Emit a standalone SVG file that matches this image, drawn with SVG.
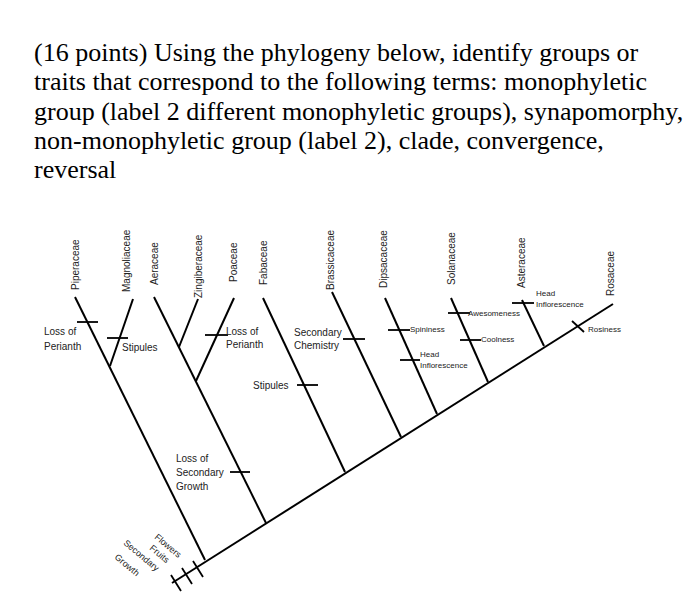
<svg xmlns="http://www.w3.org/2000/svg" width="700" height="609" viewBox="0 0 700 609">
<style>
.q{font-family:"Liberation Serif",serif;font-size:26px;fill:#000}
.t{font-family:"Liberation Sans",sans-serif;font-size:10px;fill:#222}
.l{font-family:"Liberation Sans",sans-serif;font-size:10px;fill:#222}
.s{font-family:"Liberation Sans",sans-serif;font-size:8px;fill:#222}
.r{font-family:"Liberation Sans",sans-serif;font-size:9px;fill:#222}
.b{stroke:#000;stroke-width:2;fill:none}
.h{stroke:#000;stroke-width:1.8;fill:none}
</style>
<rect width="700" height="609" fill="#fff"/>
<g id="question">
<text class="q" x="34" y="61">(16 points) Using the phylogeny below, identify groups or</text>
<text class="q" x="34" y="90">traits that correspond to the following terms: monophyletic</text>
<text class="q" x="34" y="120">group (label 2 different monophyletic groups), synapomorphy,</text>
<text class="q" x="34" y="149">non-monophyletic group (label 2), clade, convergence,</text>
<text class="q" x="34" y="178">reversal</text>
</g>
<g id="connectors">
<path class="b" d="M172,583 L613,304"/>
<path class="b" d="M75,297 L205,560"/>
<path class="b" d="M133,299 L110,366"/>
<path class="b" d="M154,297 L266,523"/>
<path class="b" d="M198,299 L179,347"/>
<path class="b" d="M234,298 L196,381"/>
<path class="b" d="M263,298 L345,472"/>
<path class="b" d="M332,292 L401,437"/>
<path class="b" d="M385,298 L437,414"/>
<path class="b" d="M451,298 L488,382"/>
<path class="b" d="M522,300 L544,346"/>
</g>
<g id="taxa">
<text class="t" transform="translate(79,290) rotate(-90)">Piperaceae</text>
<text class="t" transform="translate(130,292) rotate(-90)">Magnoliaceae</text>
<text class="t" transform="translate(158,285) rotate(-90)">Aeraceae</text>
<text class="t" transform="translate(202,298) rotate(-90)">Zingiberaceae</text>
<text class="t" transform="translate(237,282) rotate(-90)">Poaceae</text>
<text class="t" transform="translate(267,285) rotate(-90)">Fabaceae</text>
<text class="t" transform="translate(334,290) rotate(-90)">Brassicaceae</text>
<text class="t" transform="translate(387,288) rotate(-90)">Dipsacaceae</text>
<text class="t" transform="translate(455,285) rotate(-90)">Solanaceae</text>
<text class="t" transform="translate(525,288) rotate(-90)">Asteraceae</text>
<text class="t" transform="translate(614,296) rotate(-90)">Rosaceae</text>
</g>
<g id="characters">
<path class="h" d="M77,322 L98,322"/>
<text class="l" x="44" y="335">Loss of</text>
<text class="l" x="44" y="350">Perianth</text>
<path class="h" d="M107,338 L128,338"/>
<text class="l" x="122" y="351">Stipules</text>
<path class="h" d="M205,335 L228,335"/>
<text class="l" x="226" y="335">Loss of</text>
<text class="l" x="226" y="348">Perianth</text>
<path class="h" d="M343,339 L365,339"/>
<text class="l" x="294" y="336">Secondary</text>
<text class="l" x="294" y="349">Chemistry</text>
<path class="h" d="M297,385 L318,385"/>
<text class="l" x="253" y="389">Stipules</text>
<path class="h" d="M230,472 L250,472"/>
<text class="l" x="176" y="462">Loss of</text>
<text class="l" x="176" y="476">Secondary</text>
<text class="l" x="176" y="490">Growth</text>
<path class="h" d="M388,330 L410,330"/>
<text class="s" x="410" y="332">Spininess</text>
<path class="h" d="M400,360 L420,360"/>
<text class="s" x="420" y="357">Head</text>
<text class="s" x="420" y="368">Inflorescence</text>
<path class="h" d="M448,313 L470,313"/>
<text class="s" x="468" y="316">Awesomeness</text>
<path class="h" d="M460,340 L481,340"/>
<text class="s" x="481" y="342">Coolness</text>
<path class="h" d="M512,303 L534,303"/>
<text class="s" x="536" y="296">Head</text>
<text class="s" x="536" y="307">Inflorescence</text>
<path class="h" d="M572,321 L584,332"/>
<text class="s" x="588" y="332">Rosiness</text>
<path class="h" d="M193,561 L203,577 M182,568 L192,584 M171,575 L181,591"/>
<text class="r" transform="translate(154,538) rotate(40)">Flowers</text>
<text class="r" transform="translate(149,549) rotate(40)">Fruits</text>
<text class="r" transform="translate(123,544) rotate(40)">Secondary</text>
<text class="r" transform="translate(114,558) rotate(40)">Growth</text>
</g>
</svg>
